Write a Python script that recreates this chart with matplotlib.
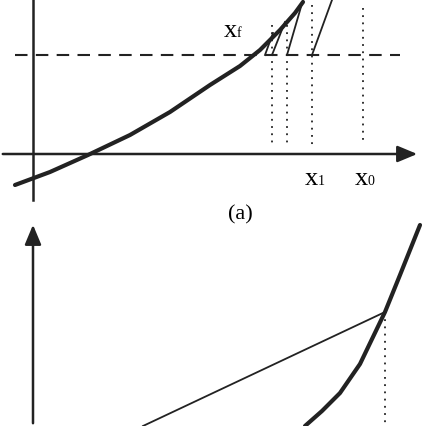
import numpy as np
import matplotlib.pyplot as plt

# diagram drawn in pixel space (y grows downwards)
curve_a_x = [15, 50, 88, 130, 170, 210, 240, 260, 280, 295, 303]
curve_a_y = [185, 172, 155, 135, 112, 85, 66, 50, 30, 13, 2]
dotted_a_x = [272, 287, 312, 363]
dotted_a_top = [25, 25, 5, 8]
chords = [((265, 55), (273, 33)), ((272, 55), (285, 22)), ((287, 55), (303, 0)), ((312, 55), (332, 0))]
labels_a = [("x", "f", 224, 42), ("x", "1", 305, 190), ("x", "0", 355, 190)]

curve_b_x = [305, 322, 340, 360, 385, 400, 412, 420]
curve_b_y = [426, 411, 393, 364, 312, 275, 245, 225]
line_b_x = [143, 385]
line_b_y = [426, 312]

fig = plt.figure(figsize=(4.26, 4.26), dpi=100)
ax = fig.add_axes([0, 0, 1, 1])
ax.set_xlim(0, 426)
ax.set_ylim(426, 0)
ax.axis('off')

# panel (a)
ax.plot([33, 33], [0, 200], color='#222', lw=1.8)
ax.annotate('', xy=(420, 154), xytext=(0, 154),
            arrowprops=dict(arrowstyle='-|>,head_length=1.2,head_width=0.5', color='#222', lw=1.8))
ax.plot([15, 400], [55, 55], color='#222', lw=1.5, ls=(0, (6, 4)))
for x, t in zip(dotted_a_x, dotted_a_top):
    ax.plot([x, x], [t, 145], color='#222', lw=1.3, ls=(0, (1, 3)))
for (p, q) in chords:
    ax.plot([p[0], q[0]], [p[1], q[1]], color='#222', lw=1.3)
ax.plot(curve_a_x, curve_a_y, color='#222', lw=3, solid_capstyle='round')
for base, sub, x, y in labels_a:
    ax.text(x, y, base, fontsize=19, family='Liberation Serif', va='bottom')
    ax.text(x + 13, y - 2, sub, fontsize=10, family='Liberation Serif', va='bottom')
ax.text(240, 215, '(a)', fontsize=16, family='Liberation Serif', ha='center', va='center')

# panel (b)
ax.annotate('', xy=(33, 222), xytext=(33, 426),
            arrowprops=dict(arrowstyle='-|>,head_length=1.2,head_width=0.5', color='#222', lw=1.8))
ax.plot(line_b_x, line_b_y, color='#222', lw=1.3)
ax.plot([385, 385], [312, 426], color='#222', lw=1.3, ls=(0, (1, 3)))
ax.plot(curve_b_x, curve_b_y, color='#222', lw=3, solid_capstyle='round')

fig.savefig('out.png', dpi=100)
